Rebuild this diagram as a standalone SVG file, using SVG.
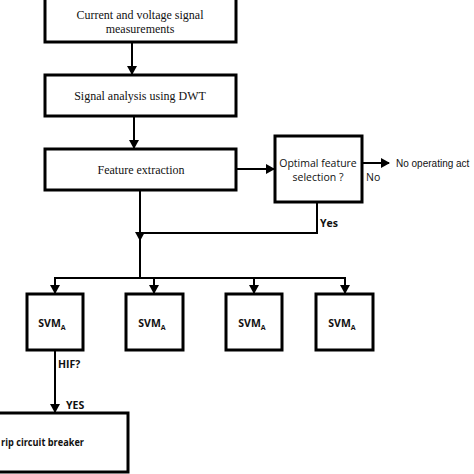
<svg xmlns="http://www.w3.org/2000/svg" width="474" height="474" viewBox="0 0 474 474">
<defs>
<marker id="ah" markerWidth="10" markerHeight="10" refX="8" refY="5" orient="auto" markerUnits="userSpaceOnUse">
<path d="M0,0 L9,5 L0,10 Z" fill="#000"/>
</marker>
<style>
.box{fill:#fff;stroke:#000;stroke-width:3}
.ser{font-family:"Liberation Serif",serif;font-size:12px;fill:#111;text-anchor:middle}
.san{font-family:"Open Sans","Liberation Sans",sans-serif;font-size:10.5px;fill:#111;text-anchor:middle}
.reg{font-family:"Open Sans","Liberation Sans",sans-serif;font-size:10.5px;fill:#111}
.bold{font-family:"Open Sans","Liberation Sans",sans-serif;font-size:10.5px;font-weight:bold;fill:#111}
.ln{fill:none;stroke:#000;stroke-width:2}
</style>
</defs>
<rect width="474" height="474" fill="#fff"/>
<g id="connectors">
<line class="ln" x1="132" y1="42" x2="132" y2="74" marker-end="url(#ah)"/>
<line class="ln" x1="134" y1="116" x2="134" y2="148" marker-end="url(#ah)"/>
<line class="ln" x1="236" y1="169" x2="274" y2="169" marker-end="url(#ah)"/>
<line class="ln" x1="362" y1="163" x2="389" y2="163" marker-end="url(#ah)"/>
<polyline class="ln" points="317,202 317,233 140,233"/>
<line class="ln" x1="140" y1="190" x2="140" y2="240" marker-end="url(#ah)"/>
<line class="ln" x1="140" y1="236" x2="140" y2="278"/>
<line class="ln" x1="54" y1="278" x2="345" y2="278"/>
<line class="ln" x1="55" y1="277" x2="55" y2="293" marker-end="url(#ah)"/>
<line class="ln" x1="154" y1="277" x2="154" y2="293" marker-end="url(#ah)"/>
<line class="ln" x1="254" y1="277" x2="254" y2="293" marker-end="url(#ah)"/>
<line class="ln" x1="345" y1="277" x2="345" y2="293" marker-end="url(#ah)"/>
<line class="ln" x1="55" y1="350" x2="55" y2="412" marker-end="url(#ah)"/>
<text class="reg" x="366" y="181">No</text>
<text class="bold" x="320" y="227">Yes</text>
<text class="bold" x="58" y="368">HIF?</text>
<text class="bold" x="66" y="409">YES</text>
<text x="396" y="167" style="font-family:'Liberation Sans',sans-serif;font-size:10px;fill:#111">No operating act</text>
</g>
<g id="n1"><rect class="box" x="45" y="-2" width="191" height="44"/>
<text class="ser" x="140" y="19">Current and voltage signal</text>
<text class="ser" x="140" y="33">measurements</text></g>
<g id="n2"><rect class="box" x="45" y="75" width="191" height="41"/>
<text class="ser" x="140" y="100">Signal analysis using DWT</text></g>
<g id="n3"><rect class="box" x="45" y="149" width="191" height="41"/>
<text class="ser" x="141" y="174">Feature extraction</text></g>
<g id="n4"><rect class="box" x="275" y="136" width="87" height="66"/>
<text class="san" x="318" y="167">Optimal feature</text>
<text class="san" x="318" y="181">selection ?</text></g>
<g id="s1"><rect class="box" x="27" y="294" width="56" height="56"/>
<text class="bold" x="52" y="327" text-anchor="middle">SVM<tspan font-size="7" dy="3">A</tspan></text></g>
<g id="s2"><rect class="box" x="126" y="294" width="57" height="56"/>
<text class="bold" x="152" y="327" text-anchor="middle">SVM<tspan font-size="7" dy="3">A</tspan></text></g>
<g id="s3"><rect class="box" x="226" y="294" width="56" height="56"/>
<text class="bold" x="252" y="327" text-anchor="middle">SVM<tspan font-size="7" dy="3">A</tspan></text></g>
<g id="s4"><rect class="box" x="316" y="294" width="57" height="56"/>
<text class="bold" x="342" y="327" text-anchor="middle">SVM<tspan font-size="7" dy="3">A</tspan></text></g>
<g id="n5"><rect class="box" x="-10" y="413" width="138" height="59"/>
<text class="bold" x="1" y="446" textLength="83" lengthAdjust="spacingAndGlyphs" style="font-size:11px">rip circuit breaker</text></g>
</svg>
